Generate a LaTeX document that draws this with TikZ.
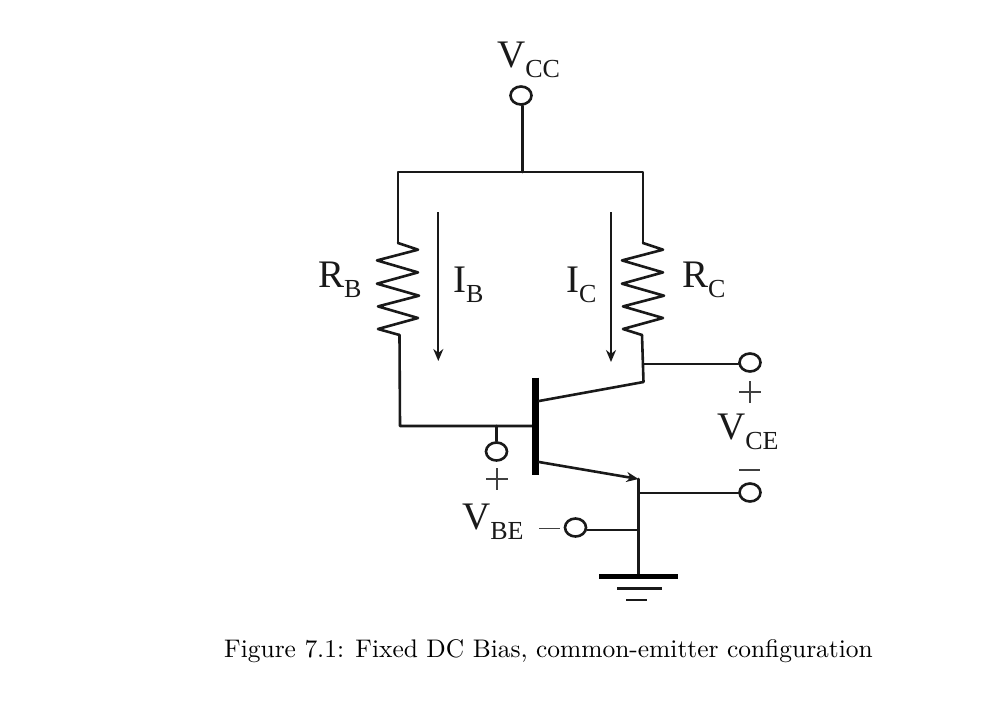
\documentclass[tikz,border=0pt]{standalone}
\usepackage{fontspec}
\setmainfont{Liberation Serif}
\newfontfamily\capfont{Latin Modern Roman}
\usetikzlibrary{shapes.geometric,arrows.meta}
\newcommand{\lbl}[2]{\fontsize{39}{39}\selectfont #1\raisebox{-10.5pt}{\fontsize{26}{26}\selectfont #2}}
\tikzset{
  wire/.style={draw=black!90,line width=2.6pt,line join=round,line cap=round},
  term/.style={ellipse,draw=black!90,line width=2.6pt,fill=white,minimum width=21pt,minimum height=18pt,inner sep=0pt},
  label/.style={anchor=base west,inner sep=0pt,text=black!90},
  sign/.style={draw=black!75,line width=1.4pt},
  cur/.style={draw=black!90,line width=1.9pt,-{Stealth[length=12pt,width=10pt]}},
  resistor/.style={wire}
}
\begin{document}
\begin{tikzpicture}[x=1pt,y=-1pt]
\useasboundingbox[fill=white] (0,0) rectangle (996,705);
% terminals
\node[term] (tcc) at (521,95.5) {};
\node[term] (tb) at (496.5,451.5) {};
\node[term] (tbe) at (575.5,527.5) {};
\node[term] (tc) at (750,362.5) {};
\node[term] (te) at (750,492.5) {};
% junction coordinates
\coordinate (top) at (522.5,172);
\coordinate (tl) at (398,172);
\coordinate (tr) at (643,172);
\coordinate (rbt) at (398,243);
\coordinate (rbb) at (399.5,335);
\coordinate (rct) at (643,243);
\coordinate (rcb) at (642,335);
\coordinate (bl) at (400,426);
\coordinate (bj) at (496.5,426);
\coordinate (bbase) at (533,426);
\coordinate (cj) at (643,364);
\coordinate (cc) at (643.5,382);
\coordinate (cb) at (539,401);
\coordinate (eb) at (539,462);
\coordinate (ee) at (638.5,479);
\coordinate (ej) at (638.5,493);
\coordinate (ebe) at (638.5,530);
\coordinate (gnd) at (638.5,576);
% supply and rails
\draw[wire] (tcc.south -| top) -- (top);
\draw[wire] (rbt) -- (tl) -- (tr) -- (rct);
% resistors
\draw[resistor] (rbt) -- ++(20,6.7) -- ++(-41,10.7) -- ++(41,12) -- ++(-41,11.3) -- ++(42,12) -- ++(-41,10.7) -- ++(40,11.6) -- ++(-40,11) -- (rbb);
\draw[resistor] (rct) -- ++(20,6.7) -- ++(-41,10.7) -- ++(41,12) -- ++(-41,11.3) -- ++(42,12) -- ++(-41,10.7) -- ++(40,11.6) -- ++(-40,11) -- (rcb);
% base
\draw[wire] (rbb) -- (bl) -- (bbase);
\draw[wire] (bj) -- (tb.north);
\draw[draw=black,line width=7pt] (535.7,377.5) coordinate (bart) -- (535.7,475) coordinate (barb);
% collector
\draw[wire] (rcb) -- (cc) -- (cb);
\draw[wire] (cj) -- (cj -| tc.west);
% emitter
\draw[wire,-{Stealth[length=12pt,width=10pt]}] (eb) -- (ee);
\draw[wire] (ee) -- (gnd);
\draw[wire] (ej) -- (ej -| te.west);
\draw[wire] (ebe) -- (ebe -| tbe.east);
% ground
\draw[draw=black,line width=4.4pt] (599,576.5) coordinate (g1a) -- (678,576.5) coordinate (g1b);
\draw[draw=black!90,line width=2.8pt] (617,588.5) coordinate (g2a) -- (662,588.5) coordinate (g2b);
\draw[draw=black!90,line width=2.4pt] (626,600) coordinate (g3a) -- (647,600) coordinate (g3b);
% current arrows
\coordinate (ibt) at (438.3,212);
\coordinate (ibb) at (438.3,361);
\coordinate (ict) at (611,212);
\coordinate (icb) at (611,362);
\draw[cur] (ibt) -- (ibb);
\draw[cur] (ict) -- (icb);
% labels
\node[label] (lvcc) at (497,67) {\lbl{V}{CC}};
\node[label] (lrb) at (318,287) {\lbl{R}{B}};
\node[label] (lib) at (453,292) {\lbl{I}{B}};
\node[label] (lic) at (566,292) {\lbl{I}{C}};
\node[label] (lrc) at (682,287) {\lbl{R}{C}};
\node[label] (lvce) at (717,439) {\lbl{V}{CE}};
\node[label] (lvbe) at (462,529) {\lbl{V}{BE}};
% signs
\draw[sign] (739,392) coordinate (p1a) -- (761,392) coordinate (p1b) (750,381) coordinate (p1c) -- (750,403) coordinate (p1d);
\draw[sign] (739,470) coordinate (m1a) -- (760,470) coordinate (m1b);
\draw[sign] (486,479) coordinate (p2a) -- (508,479) coordinate (p2b) (497,468) coordinate (p2c) -- (497,490) coordinate (p2d);
\draw[sign] (539,528.5) coordinate (m2a) -- (560,528.5) coordinate (m2b);
% caption
\node[label,text=black] (cap) at (224,657) {\scalebox{2.545}{\capfont\fontsize{10}{12}\selectfont Figure 7.1: Fixed DC Bias, common-emitter configuration}};
\end{tikzpicture}
\end{document}
